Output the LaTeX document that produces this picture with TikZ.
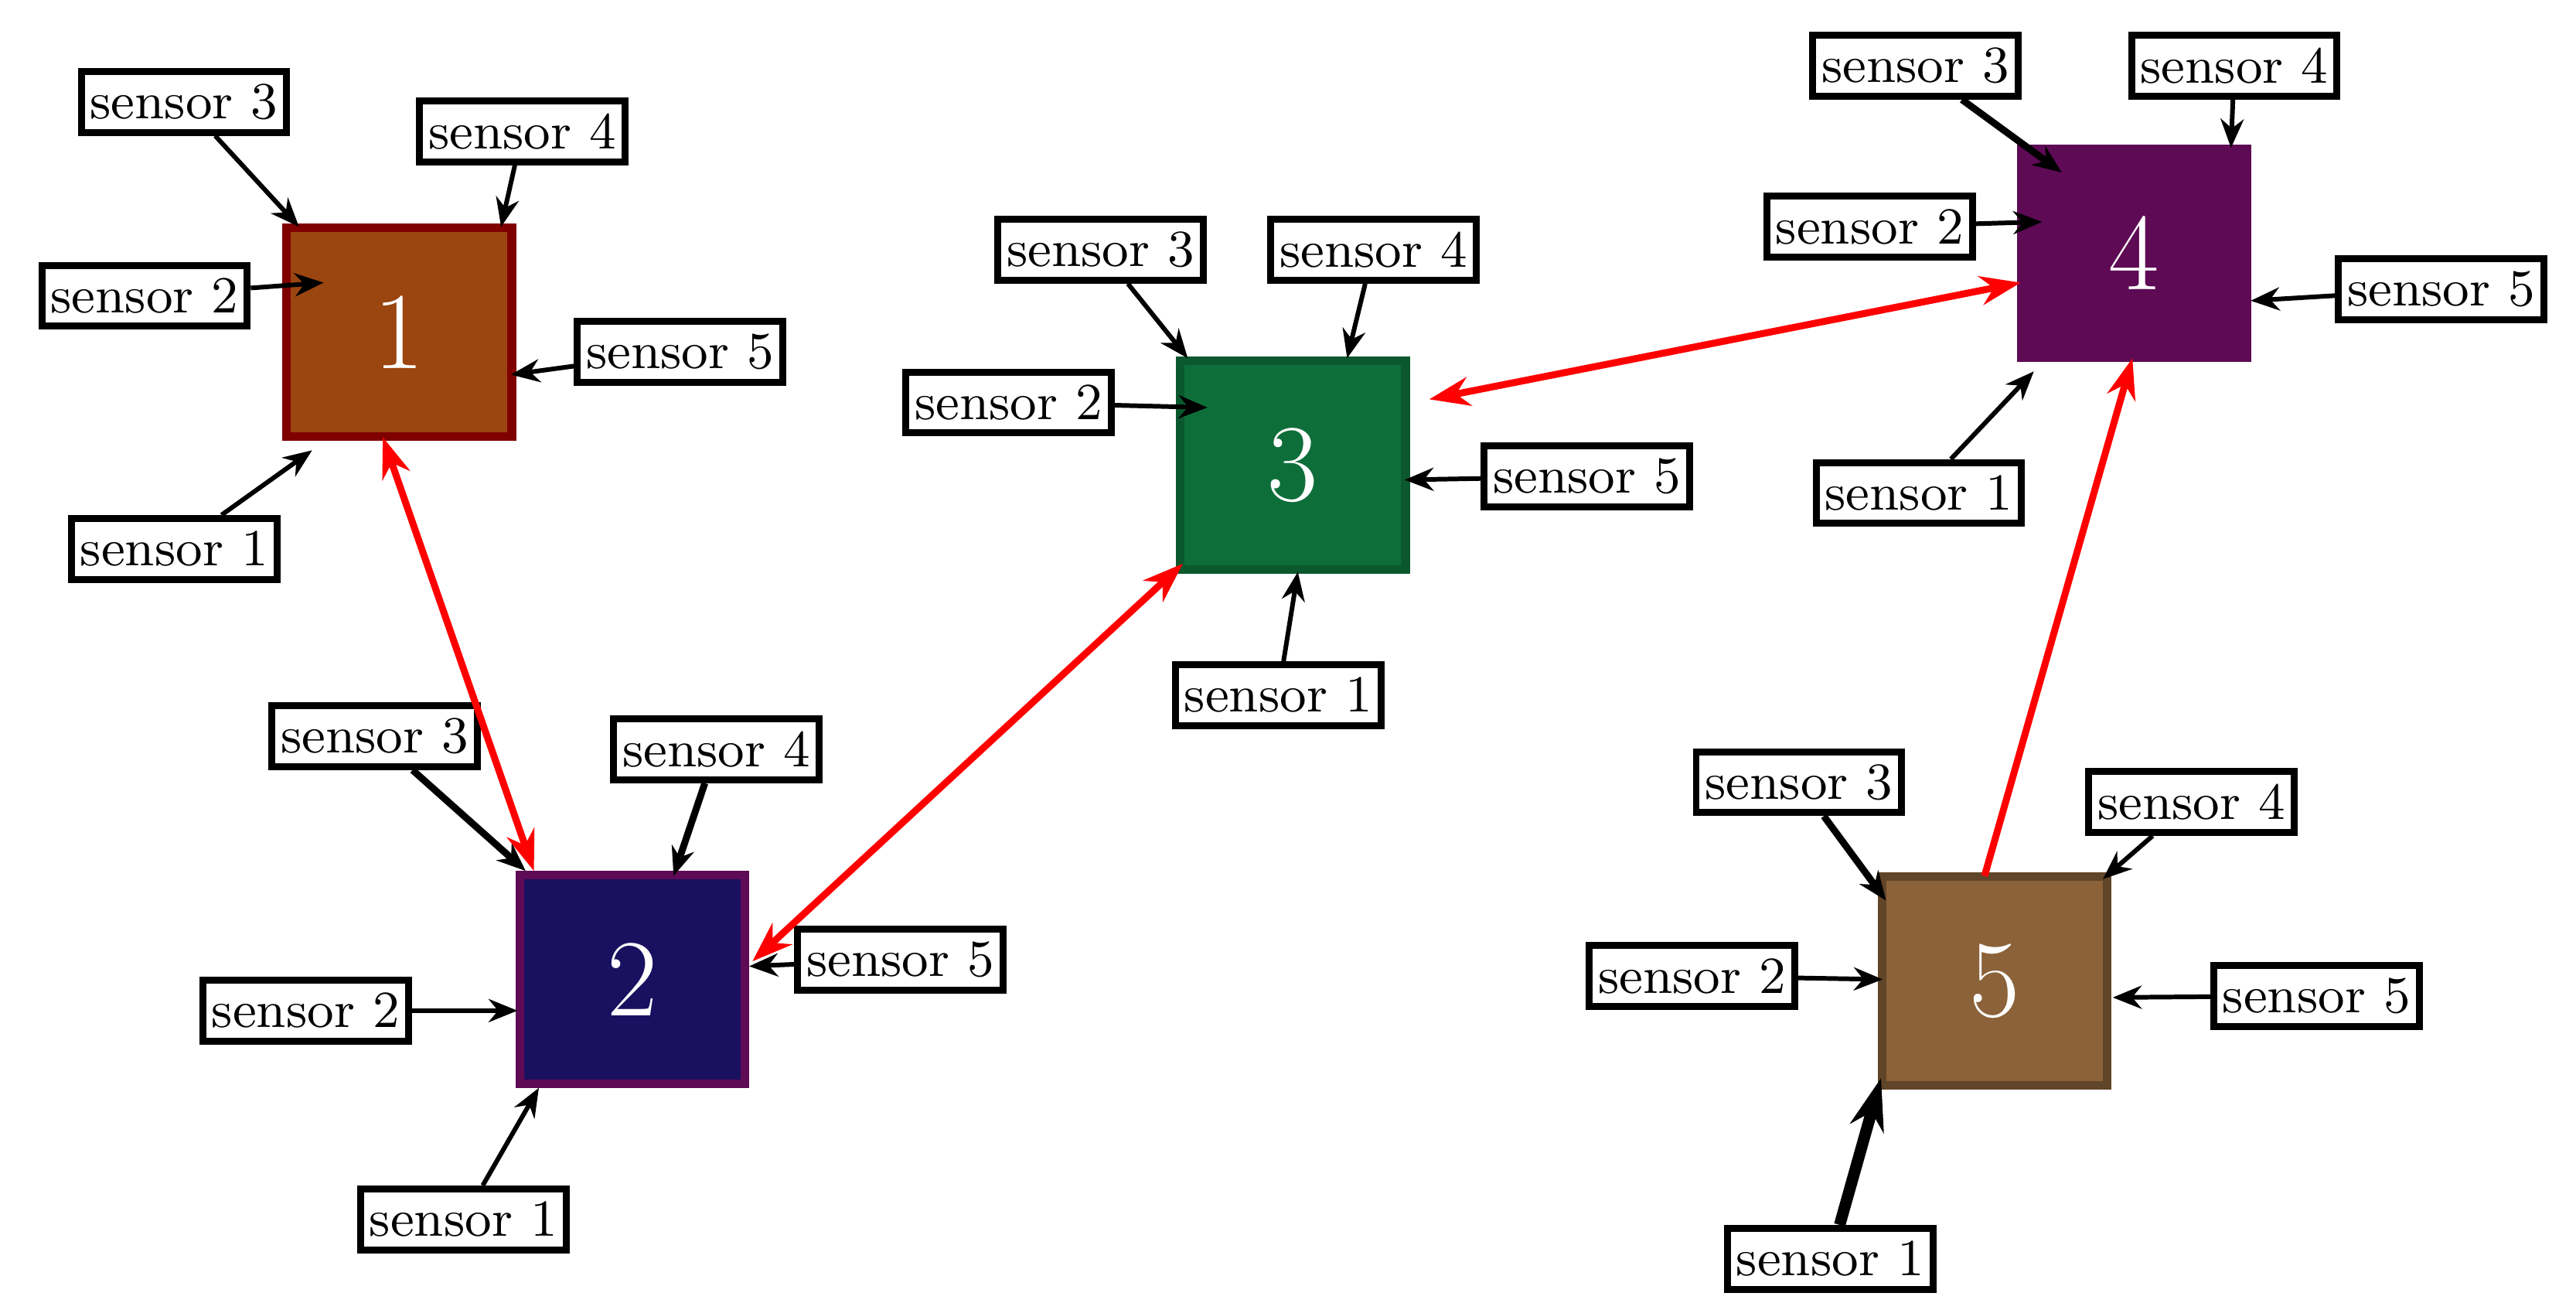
\documentclass[tikz,border=0pt]{standalone}
\usetikzlibrary{arrows.meta}
\begin{document}
\begin{tikzpicture}[x=0.01cm,y=-0.01cm,
 lab/.style={draw,line width=1.2pt,fill=white,minimum width=1.25cm,minimum height=0.37cm,inner sep=1pt,font=\fontsize{9}{10}\selectfont},
 box/.style={minimum width=1.37cm,minimum height=1.27cm,text=white,font=\fontsize{19}{20}\selectfont,line width=1.5pt},
 sa/.style={-{Stealth[length=5pt,width=4pt]},line width=0.8pt},
 ra/.style={{Stealth[length=7pt,width=5pt]}-{Stealth[length=7pt,width=5pt]},red,line width=1.2pt}]
\useasboundingbox (0,0) rectangle (1568,797);
\definecolor{c1}{HTML}{9B4510}\definecolor{c2}{HTML}{1A1060}\definecolor{c3}{HTML}{0E6E3A}
\definecolor{c4}{HTML}{5E0A55}\definecolor{c5}{HTML}{8B6239}
\node[box,fill=c1,draw=red!50!black] (b1) at (243,202) {1};
\node[box,fill=c2,draw=c4] (b2) at (385,596) {2};
\node[box,fill=c3,draw=c3!80!black] (b3) at (787,283) {3};
\node[box,fill=c4,draw=c4] (b4) at (1299,154) {4};
\node[box,fill=c5,draw=c5!70!black] (b5) at (1214,597) {5};
% box 1
\node[lab] (a3) at (112,62) {sensor 3};
\node[lab] (a4) at (318,80) {sensor 4};
\node[lab] (a2) at (88,180) {sensor 2};
\node[lab] (a5) at (414,214) {sensor 5};
\node[lab] (a1) at (106,334) {sensor 1};
\coordinate (p13) at (182,138);\coordinate (p14) at (305,138);\coordinate (p12) at (197,172);
\coordinate (p15) at (311,228);\coordinate (p11) at (190,274);
\draw[sa] (a3) -- (p13);\draw[sa] (a4) -- (p14);\draw[sa] (a2) -- (p12);\draw[sa] (a5) -- (p15);\draw[sa] (a1) -- (p11);
% box 2
\node[lab] (d3) at (228,448) {sensor 3};
\node[lab] (d4) at (436,456) {sensor 4};
\node[lab] (d2) at (186,615) {sensor 2};
\node[lab] (d5) at (548,584) {sensor 5};
\node[lab] (d1) at (282,742) {sensor 1};
\coordinate (p23) at (320,530);\coordinate (p24) at (410,533);\coordinate (p22) at (315,615);
\coordinate (p25) at (456,588);\coordinate (p21) at (328,662);
\draw[sa,line width=1.2pt] (d3) -- (p23);\draw[sa,line width=1.2pt] (d4) -- (p24);\draw[sa] (d2) -- (p22);\draw[sa] (d5) -- (p25);\draw[sa] (d1) -- (p21);
% box 3
\node[lab] (e3) at (670,152) {sensor 3};
\node[lab] (e4) at (836,152) {sensor 4};
\node[lab] (e2) at (614,245) {sensor 2};
\node[lab] (e5) at (966,290) {sensor 5};
\node[lab] (e1) at (778,423) {sensor 1};
\coordinate (p33) at (723,218);\coordinate (p34) at (820,218);\coordinate (p32) at (735,248);
\coordinate (p35) at (855,292);\coordinate (p31) at (790,348);
\draw[sa] (e3) -- (p33);\draw[sa] (e4) -- (p34);\draw[sa] (e2) -- (p32);\draw[sa] (e5) -- (p35);\draw[sa] (e1) -- (p31);
% box 4
\node[lab] (f3) at (1166,40) {sensor 3};
\node[lab] (f4) at (1360,40) {sensor 4};
\node[lab] (f2) at (1138,138) {sensor 2};
\node[lab] (f5) at (1486,176) {sensor 5};
\node[lab] (f1) at (1168,300) {sensor 1};
\coordinate (p43) at (1255,105);\coordinate (p44) at (1358,90);\coordinate (p42) at (1243,135);
\coordinate (p45) at (1370,183);\coordinate (p41) at (1238,226);
\draw[sa,line width=1.2pt] (f3) -- (p43);\draw[sa] (f4) -- (p44);\draw[sa] (f2) -- (p42);\draw[sa] (f5) -- (p45);\draw[sa] (f1) -- (p41);
% box 5
\node[lab] (g3) at (1095,476) {sensor 3};
\node[lab] (g4) at (1334,488) {sensor 4};
\node[lab] (g2) at (1030,594) {sensor 2};
\node[lab] (g5) at (1410,606) {sensor 5};
\node[lab] (g1) at (1114,766) {sensor 1};
\coordinate (p53) at (1148,548);\coordinate (p54) at (1280,535);\coordinate (p52) at (1146,596);
\coordinate (p55) at (1286,607);\coordinate (p51) at (1145,656);
\draw[sa,line width=1.2pt] (g3) -- (p53);\draw[sa] (g4) -- (p54);\draw[sa] (g2) -- (p52);\draw[sa] (g5) -- (p55);
\draw[-{Stealth[length=9pt,width=6pt]},line width=2pt] (g1) -- (p51);
% red links
\coordinate (r1) at (233,266);\coordinate (r2a) at (325,530);
\coordinate (r2b) at (458,585);\coordinate (r3a) at (720,343);
\coordinate (r3b) at (870,243);\coordinate (r4a) at (1230,172);
\coordinate (r5) at (1208,533);\coordinate (r4b) at (1298,218);
\draw[ra] (r1) -- (r2a);
\draw[ra] (r2b) -- (r3a);
\draw[ra] (r3b) -- (r4a);
\draw[-{Stealth[length=7pt,width=5pt]},red,line width=1.2pt] (r5) -- (r4b);
\end{tikzpicture}
\end{document}
